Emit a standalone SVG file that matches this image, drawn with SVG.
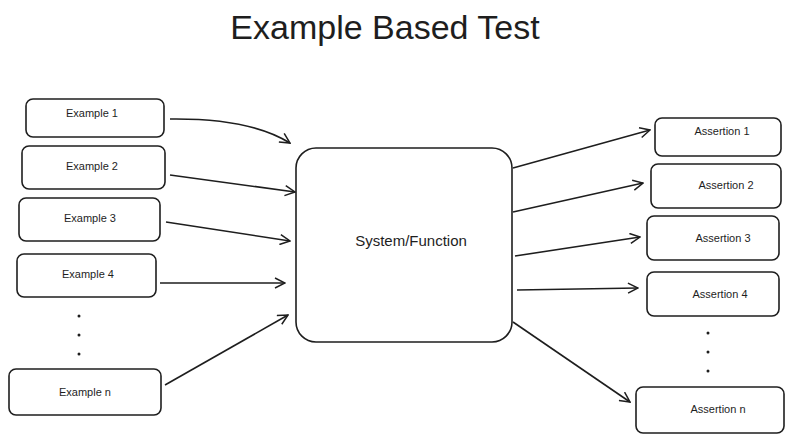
<svg xmlns="http://www.w3.org/2000/svg" width="800" height="442" viewBox="0 0 800 442">
<style>
.b{fill:#fff;stroke:#1e1e1e;stroke-width:1.6}
.t{font-family:"Comic Sans MS","Liberation Sans",sans-serif;font-size:11px;fill:#1e1e1e;text-anchor:middle;dominant-baseline:middle}
.c{fill:none;stroke:#1e1e1e;stroke-width:1.6;marker-end:url(#a)}
.d{fill:#1e1e1e}
</style>
<defs><marker id="a" viewBox="0 0 12 12" refX="11" refY="6" markerWidth="12" markerHeight="12" orient="auto" markerUnits="userSpaceOnUse"><path d="M1,1 L11,6 L1,11" fill="none" stroke="#1e1e1e" stroke-width="1.5"/></marker></defs>
<rect width="800" height="442" fill="#fff"/>
<text x="385" y="30" style="font-family:'Liberation Sans',sans-serif;font-size:34px;fill:#1e1e1e;text-anchor:middle;dominant-baseline:middle">Example Based Test</text>
<g id="ex1"><rect class="b" x="26" y="99" width="138" height="38" rx="7"/><text class="t" x="92" y="114">Example 1</text></g>
<g id="ex2"><rect class="b" x="22" y="146" width="143" height="43" rx="7"/><text class="t" x="92" y="167">Example 2</text></g>
<g id="ex3"><rect class="b" x="19" y="198" width="141" height="43" rx="7"/><text class="t" x="90" y="219">Example 3</text></g>
<g id="ex4"><rect class="b" x="17" y="254" width="139" height="43" rx="7"/><text class="t" x="88" y="275">Example 4</text></g>
<g id="exdots"><circle class="d" cx="79" cy="316" r="1.5"/><circle class="d" cx="79" cy="335" r="1.5"/><circle class="d" cx="79" cy="354" r="1.5"/></g>
<g id="exn"><rect class="b" x="9" y="369" width="152" height="46" rx="7"/><text class="t" x="85" y="393">Example n</text></g>
<g id="sys"><rect class="b" x="296" y="148" width="216" height="194" rx="20"/><text class="t" x="411" y="242" style="font-size:15px">System/Function</text></g>
<g id="as1"><rect class="b" x="655" y="118" width="126" height="38" rx="7"/><text class="t" x="722" y="132">Assertion 1</text></g>
<g id="as2"><rect class="b" x="651" y="164" width="130" height="44" rx="7"/><text class="t" x="726" y="186">Assertion 2</text></g>
<g id="as3"><rect class="b" x="647" y="216" width="132" height="44" rx="7"/><text class="t" x="723" y="239">Assertion 3</text></g>
<g id="as4"><rect class="b" x="647" y="272" width="132" height="44" rx="7"/><text class="t" x="720" y="295">Assertion 4</text></g>
<g id="asdots"><circle class="d" cx="708" cy="333" r="1.5"/><circle class="d" cx="708" cy="352" r="1.5"/><circle class="d" cx="708" cy="371" r="1.5"/></g>
<g id="asn"><rect class="b" x="636" y="387" width="148" height="46" rx="7"/><text class="t" x="718" y="410">Assertion n</text></g>
<g id="connectors">
<path class="c" d="M170,119 Q250,118 290,143"/>
<path class="c" d="M170,175 L295,192"/>
<path class="c" d="M166,222 L290,241"/>
<path class="c" d="M160,283 L285,283"/>
<path class="c" d="M165,385 L288,315"/>
<path class="c" d="M513,168 L650,130"/>
<path class="c" d="M513,212 L643,183"/>
<path class="c" d="M515,256 L640,237"/>
<path class="c" d="M517,290 L638,288"/>
<path class="c" d="M513,322 L630,402"/>
</g>
</svg>
